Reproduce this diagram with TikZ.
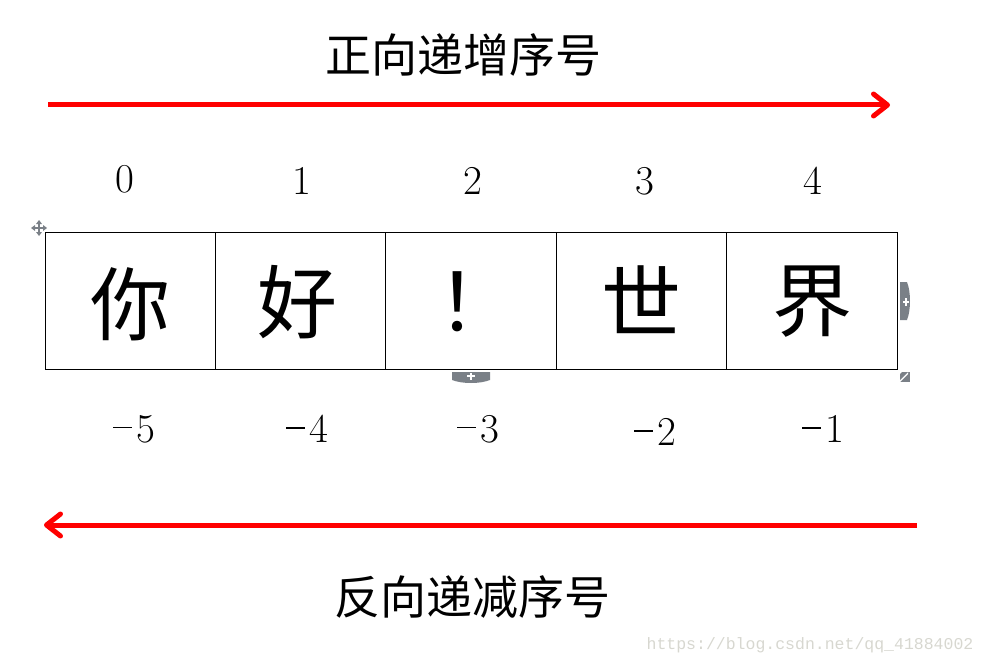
\documentclass[tikz,border=0pt]{standalone}
\usepackage{fontspec}
\newfontfamily\cjk{Noto Sans CJK SC}
\newfontfamily\wmfont{Liberation Mono}
\usetikzlibrary{arrows.meta}
\definecolor{arrowred}{RGB}{255,0,0}
\definecolor{handlegray}{RGB}{122,128,135}
\definecolor{wmgray}{RGB}{215,215,208}
\newcommand{\mysign}{\rule[0.34em]{19pt}{1.4pt}\hspace{4pt}}
\tikzset{
  cellbox/.style={draw=black, line width=0.9pt, minimum width=170.4pt, minimum height=137pt, inner sep=0pt},
  cjkchar/.style={inner sep=0pt, font=\cjk\fontsize{80}{80}\selectfont},
  idxlabel/.style={inner sep=0pt, font=\fontsize{41}{41}\selectfont},
  titlelabel/.style={inner sep=0pt, font=\cjk\fontsize{46}{46}\selectfont},
  redarrow/.style={draw=arrowred, line width=5pt, -{Straight Barb[round, length=14pt, width=22pt, line width=5pt]}, shorten >=2pt},
  handle/.style={fill=handlegray, draw=none}
}
\begin{document}
\begin{tikzpicture}[x=1pt,y=-1pt]
\useasboundingbox (0,0) rectangle (986,666);
% titles
\node[titlelabel] (top) at (463,55) {正向递增序号};
\node[titlelabel] (bot) at (472,597) {反向递减序号};
% arrows
\coordinate (a1s) at (48,105);
\coordinate (a1e) at (892,105);
\coordinate (a2s) at (917,525);
\coordinate (a2e) at (42,525);
\draw[redarrow] (a1s) -- (a1e);
\draw[redarrow] (a2s) -- (a2e);
% cells
\node[cellbox] (c0) at (130.2,300.5) {};
\node[cellbox] (c1) at (300.6,300.5) {};
\node[cellbox] (c2) at (471,300.5) {};
\node[cellbox] (c3) at (641.4,300.5) {};
\node[cellbox] (c4) at (811.8,300.5) {};
\node[cjkchar] (t0) at (130,304) {你};
\node[cjkchar] (t1) at (297,302) {好};
\node[cjkchar] (t2) at (477,302) {！};
\node[cjkchar] (t3) at (641,300) {世};
\node[cjkchar] (t4) at (812,302) {界};
% positive indices
\node[idxlabel] (p0) at (125,179) {0};
\node[idxlabel] (p1) at (302,181) {1};
\node[idxlabel] (p2) at (473,181) {2};
\node[idxlabel] (p3) at (645,181) {3};
\node[idxlabel] (p4) at (813,181) {4};
% negative indices
\node[idxlabel] (n0) at (134,429) {\mysign 5};
\node[idxlabel] (n1) at (307,429) {\mysign 4};
\node[idxlabel] (n2) at (478,429) {\mysign 3};
\node[idxlabel] (n3) at (655,432) {\mysign 2};
\node[idxlabel] (n4) at (823,429) {\mysign 1};
% editor handles
\begin{scope}[shift={(39,228)}]
  \fill[handlegray] (0,-8) -- (3,-4) -- (-3,-4) -- cycle;
  \fill[handlegray] (0,8) -- (3,4) -- (-3,4) -- cycle;
  \fill[handlegray] (-8,0) -- (-4,3) -- (-4,-3) -- cycle;
  \fill[handlegray] (8,0) -- (4,3) -- (4,-3) -- cycle;
  \fill[handlegray] (-4.5,-1) rectangle (4.5,1);
  \fill[handlegray] (-1,-4.5) rectangle (1,4.5);
\end{scope}
\fill[handle] (900,282) -- (907,282) .. controls (911,292) and (911,310) .. (907,320) -- (900,320) -- cycle;
\fill[white] (902.5,300.5) rectangle (908.5,302.5);
\fill[white] (904.5,297.5) rectangle (906.5,305.5);
\fill[handle] (452,372) -- (490,372) -- (490,380) .. controls (480,384) and (462,384) .. (452,380) -- cycle;
\fill[white] (467,375) rectangle (475,377);
\fill[white] (470,372.5) rectangle (472,379.5);
\fill[handle] (900,372) rectangle (910,382);
\fill[white] (900,382) -- (908,374) -- (908,372) -- (900,372) -- cycle;
\fill[handlegray] (900,380) -- (908,372) -- (902,372) -- (900,374) -- cycle;
% watermark
\node[inner sep=0pt, text=wmgray, font=\wmfont\fontsize{16.5}{16.5}\selectfont] (wm) at (810,645) {https://blog.csdn.net/qq\_41884002};
\end{tikzpicture}
\end{document}
